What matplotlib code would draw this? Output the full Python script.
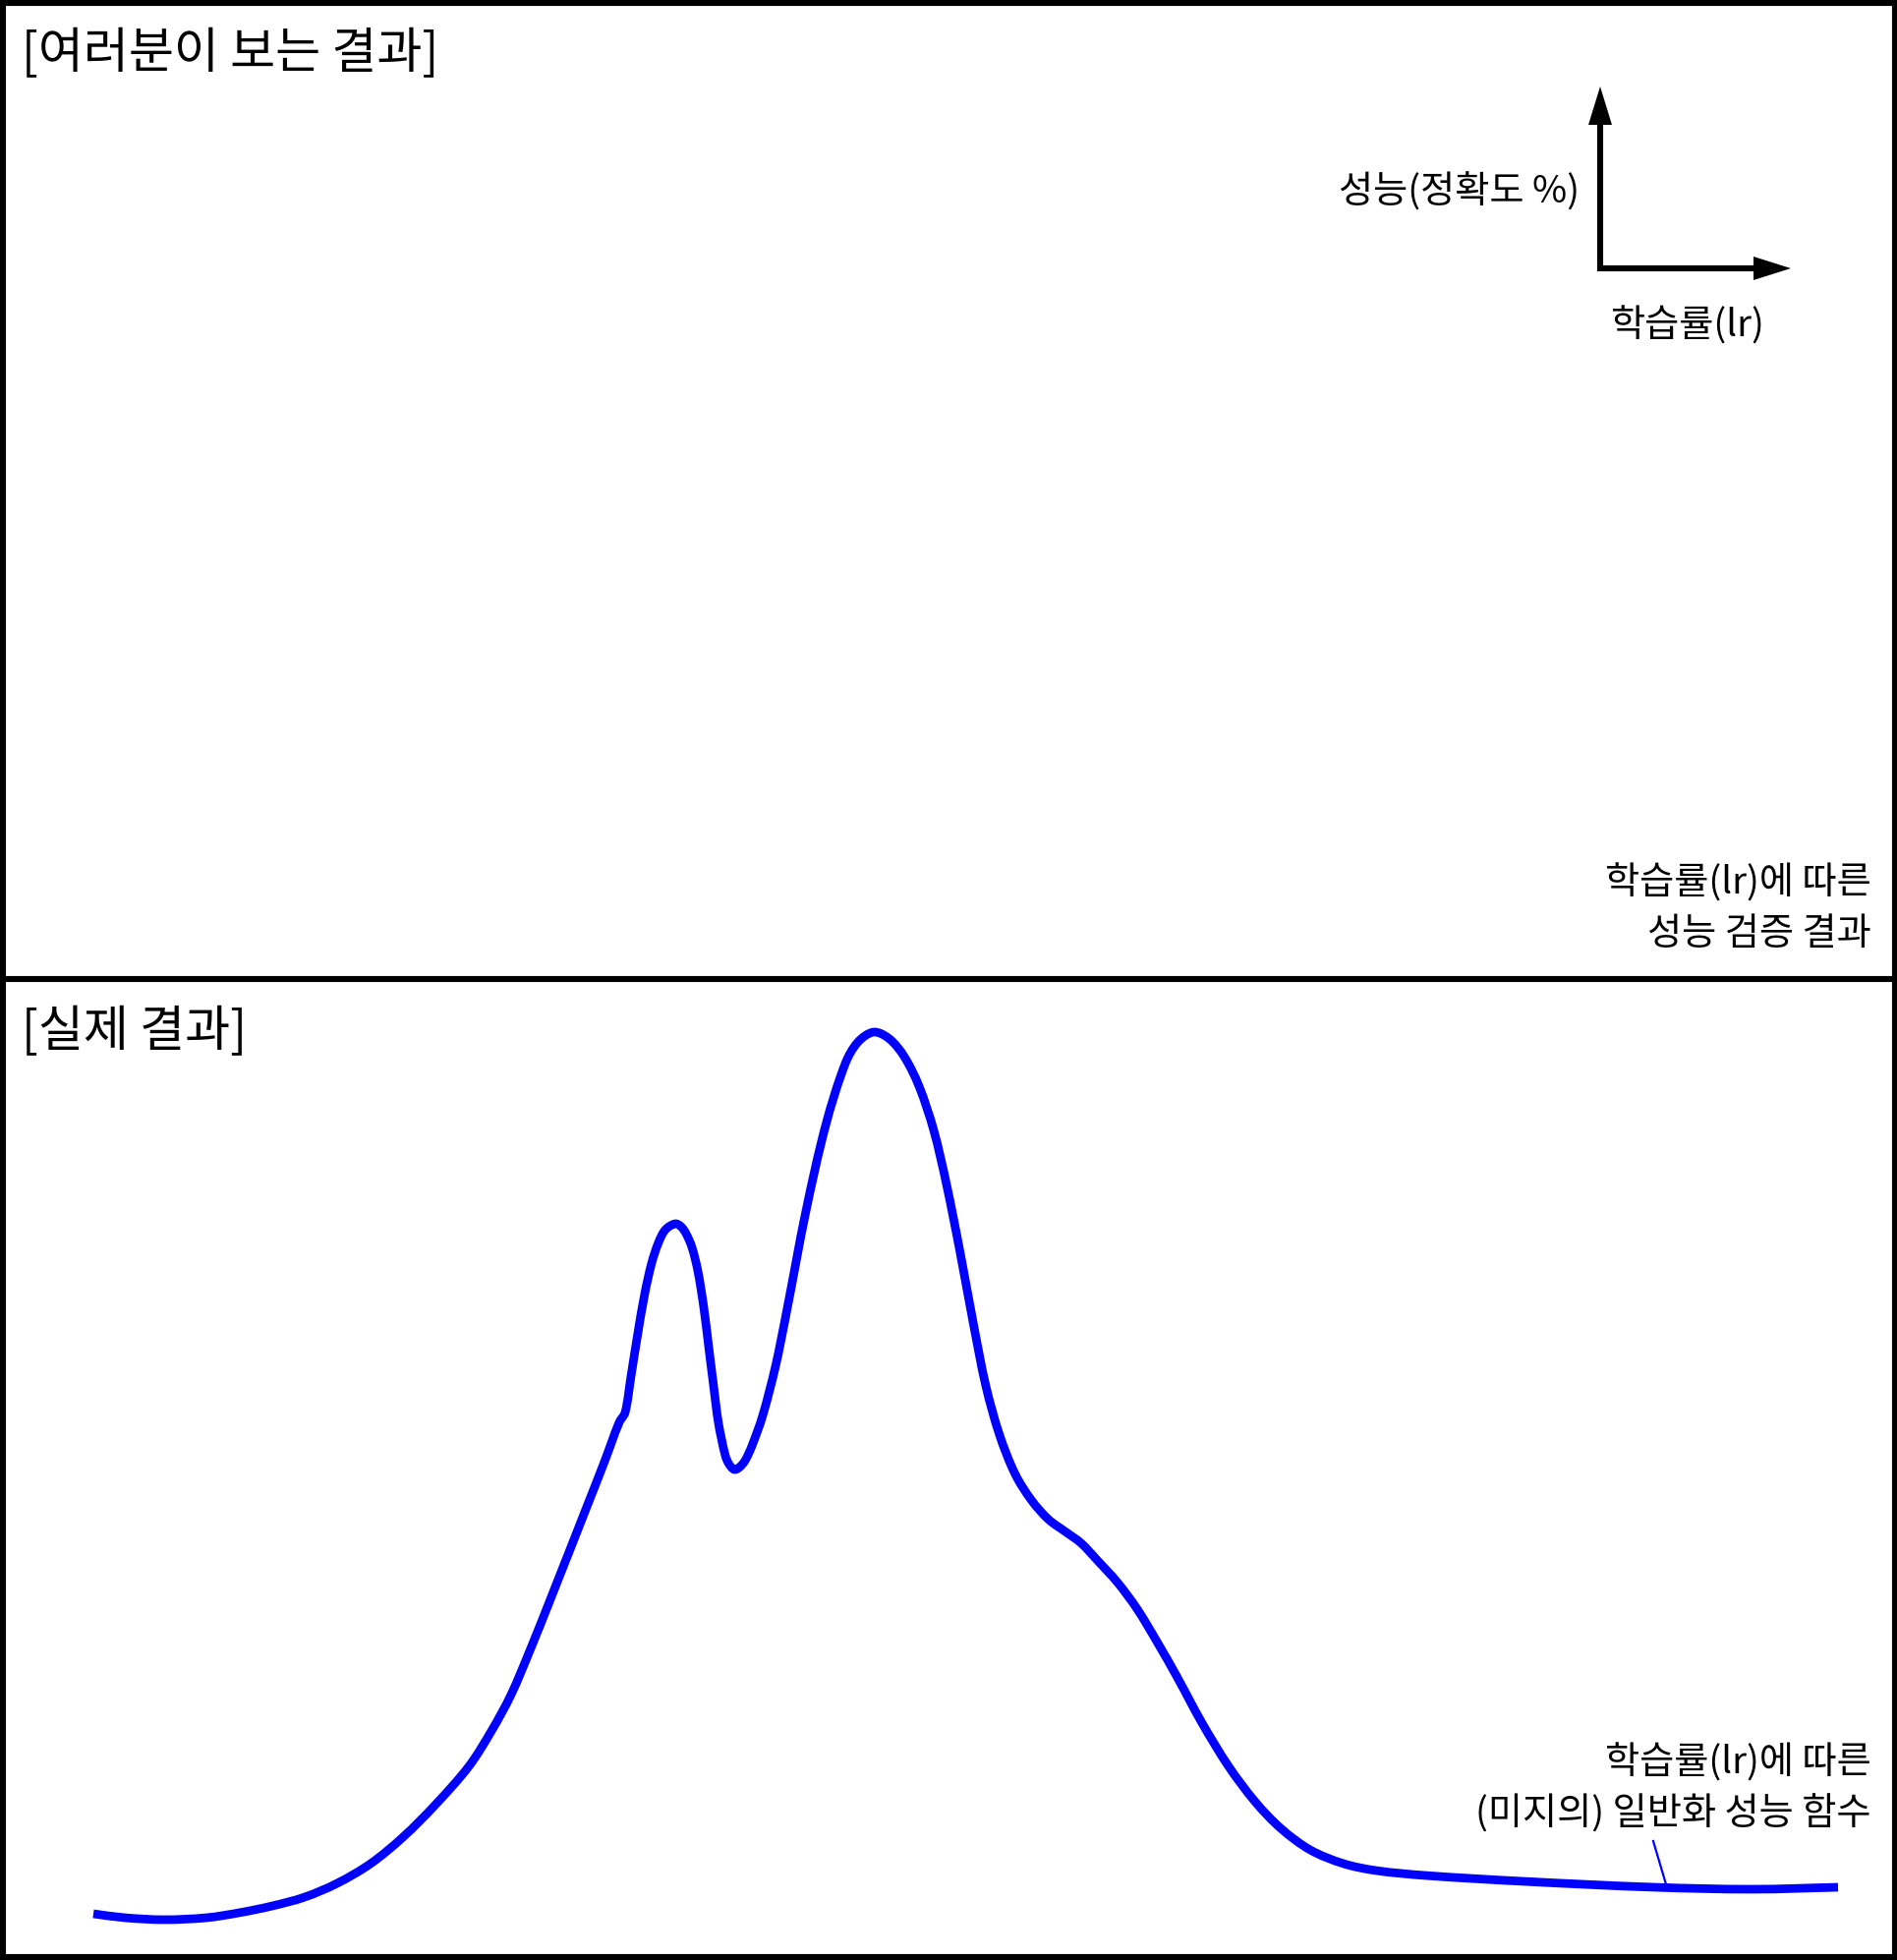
import matplotlib
matplotlib.use("Agg")
import numpy as np
import matplotlib.pyplot as plt
from matplotlib.patches import Rectangle, PathPatch, Polygon
from matplotlib.lines import Line2D
from matplotlib.path import Path

plt.rcParams['font.family'] = ['Noto Sans CJK KR', 'DejaVu Sans']

# learning rate (arbitrary units) vs generalisation performance (arbitrary units)
lr = [9.5, 12.7, 16.7, 21.0, 24.3, 27.7, 31.0, 34.3, 37.7, 41.0, 44.3, 47.7,
      50.0, 52.0, 54.0, 56.0, 59.7, 61.5,
      63.0, 63.6, 64.2, 64.9, 65.6, 66.3, 67.0, 67.7, 68.7, 69.3, 69.8, 70.4,
      71.0, 71.6, 72.1, 72.6, 73.1, 73.8, 74.2, 74.7,
      75.2, 75.8, 76.5, 77.6, 78.9, 80.0, 82.0, 84.0, 86.0, 87.3, 88.9,
      90.5, 92.0, 93.5, 95.0, 96.3, 97.7, 99.0, 100.3, 101.7, 103.3, 105.0,
      106.7, 108.5, 110.0, 111.7, 113.7, 115.7, 117.7, 119.7, 122.3, 125.0,
      127.7, 130.3, 133.3, 136.7, 140.0, 145.0, 155.0, 168.3, 178.3, 187.0]
perf = [4.7, 4.3, 4.1, 4.3, 4.8, 5.5, 6.4, 7.8, 9.8, 12.5, 15.8, 19.7,
        23.3, 27.0, 31.7, 36.7, 46.1, 50.7,
        54.7, 55.7, 59.4, 63.8, 67.8, 70.9, 73.0, 74.3, 74.9, 74.6, 73.9, 72.5,
        70.1, 66.4, 62.4, 58.4, 54.6, 51.3, 50.4, 49.9,
        50.1, 50.8, 52.3, 55.4, 60.4, 65.8, 76.2, 84.9, 91.2, 93.4, 94.4,
        93.7, 91.9, 88.9, 84.4, 78.9, 71.9, 64.9, 58.4, 53.4, 49.4, 46.7,
        44.8, 43.5, 42.4, 40.6, 38.4, 35.7, 32.4, 28.9, 24.1, 19.7,
        16.1, 13.4, 11.2, 9.8, 9.1, 8.6, 8.0, 7.4, 7.2, 7.4]


def smooth_path(xs, ys):
    # chord-length catmull-rom through the points, as cubic bezier segments
    p = np.column_stack([xs, ys]).astype(float)
    n = len(p)
    t = np.concatenate([[0], np.cumsum(np.hypot(*np.diff(p, axis=0).T))])
    m = np.zeros_like(p)
    for i in range(n):
        a, b = max(i - 1, 0), min(i + 1, n - 1)
        m[i] = (p[b] - p[a]) / (t[b] - t[a])
    verts = [p[0]]
    codes = [Path.MOVETO]
    for i in range(n - 1):
        h = t[i + 1] - t[i]
        verts += [p[i] + m[i] * h / 3, p[i + 1] - m[i + 1] * h / 3, p[i + 1]]
        codes += [Path.CURVE4] * 3
    return Path(verts, codes)


W, H = 1931, 1994
fig = plt.figure(figsize=(W / 100, H / 100), dpi=100)

# overlay axes in pixel coordinates for frame, labels and arrows
lay = fig.add_axes([0, 0, 1, 1])
lay.set_xlim(0, W)
lay.set_ylim(H, 0)
lay.axis('off')

# bottom panel: the curve
ax = fig.add_axes([0, 0, 1, 998 / H])
ax.set_xlim(0, W / 10)
ax.set_ylim(0, 99.8)
ax.axis('off')
ax.add_patch(PathPatch(smooth_path(lr, perf), fill=False, ec='#0000ff', lw=6.3,
                       capstyle='butt', joinstyle='round'))

# pointer from the label to the curve
lay.plot([1682, 1695], [1873, 1917], color='#0000ff', lw=1.6)

# frame + divider
lay.add_patch(Rectangle((3, 3), W - 6, H - 6, fill=False, ec='black', lw=4.4))
lay.add_line(Line2D([0, W], [996, 996], color='black', lw=4.4))

# axis arrows (top panel)
lay.add_line(Line2D([1628, 1628, 1786], [120, 273, 273], color='black', lw=4.4,
                    solid_joinstyle='miter', solid_capstyle='butt'))
lay.add_patch(Polygon([[1628, 88], [1616, 127], [1640, 127]], closed=True, fc='black', ec='none'))
lay.add_patch(Polygon([[1822, 273], [1784, 261], [1784, 285]], closed=True, fc='black', ec='none'))

big = 36
small = 27.5
lay.text(22, 55, '[여러분이 보는 결과]', fontsize=big, ha='left', va='center')
lay.text(22, 1050, '[실제 결과]', fontsize=big, ha='left', va='center')

lay.text(1607, 196, '성능(정확도 %)', fontsize=small, ha='right', va='center')
lay.text(1716, 332, '학습률(lr)', fontsize=small, ha='center', va='center')

lay.text(1904, 899, '학습률(lr)에 따른', fontsize=small, ha='right', va='center')
lay.text(1904, 950, '성능 검증 결과', fontsize=small, ha='right', va='center')

lay.text(1904, 1794, '학습률(lr)에 따른', fontsize=small, ha='right', va='center')
lay.text(1904, 1846, '(미지의) 일반화 성능 함수', fontsize=small, ha='right', va='center')

fig.savefig('out.png', dpi=100, facecolor='white')
